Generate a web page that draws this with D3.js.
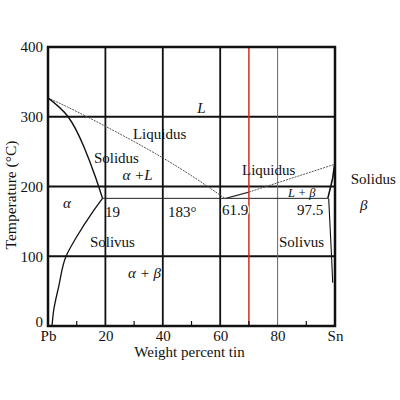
<!DOCTYPE html>
<html>
<head>
<meta charset="utf-8">
<script src="https://cdn.jsdelivr.net/npm/d3@7"></script>
<style>
  body { margin: 0; background: #fff; }
  svg text { font-family: "Liberation Serif", "Times New Roman", serif; fill: #111; }
</style>
</head>
<body>
<script>
// axis ticks
const xTicks = [0, 20, 40, 60, 80, 100];
const xTickLabels = ["Pb", "20", "40", "60", "80", "Sn"];
const xMinorTicks = [10, 30, 50, 70, 90];
const yTicks = [0, 100, 200, 300, 400];

// phase boundaries, [wt% Sn, temperature °C]
const liquidusLeft = [[0, 327], [13.6, 300], [40, 241], [62, 182]];
const liquidusRight = [[61.9, 183], [70, 192], [100, 232]];
const solidusLeft = [[0, 327], [7, 300], [12.5, 257], [16.5, 214], [19, 183]];
const solvusLeft = [[19, 183], [15.3, 162], [10, 128], [6.3, 100], [3.7, 56], [2, 23], [1.4, 0]];
const solidusRight = [[97.5, 183], [99.2, 212], [99.8, 230]];
const solvusRight = [[97.8, 183], [98.8, 100], [99.2, 62]];
const eutectic = { from: 19, to: 97.5, temp: 183 };
const alloy = 70;

const serif = "'Liberation Serif', 'Times New Roman', serif";

let width = 400,
    height = 400;

let svg = d3.select("body")
    .append("svg")
    .attr("width", width)
    .attr("height", height);

let x = d3.scaleLinear().domain([0, 100]).range([48, 335]);
let y = d3.scaleLinear().domain([0, 400]).range([326, 47]);

// grid
svg.selectAll(".hgrid")
    .data(yTicks.filter(d => d > 0 && d < 400))
    .enter().append("line")
    .attr("x1", x(0)).attr("x2", x(100))
    .attr("y1", d => y(d)).attr("y2", d => y(d))
    .attr("stroke", "#111").attr("stroke-width", 1.8);

svg.selectAll(".vgrid")
    .data(xTicks.filter(d => d > 0 && d < 100))
    .enter().append("line")
    .attr("x1", d => x(d)).attr("x2", d => x(d))
    .attr("y1", y(0)).attr("y2", y(400))
    .attr("stroke", d => d === 80 ? "#666" : "#111")
    .attr("stroke-width", d => d === 80 ? 1 : 1.8);

// eutectic isotherm
svg.append("line")
    .attr("x1", x(eutectic.from)).attr("x2", x(eutectic.to))
    .attr("y1", y(eutectic.temp)).attr("y2", y(eutectic.temp))
    .attr("stroke", "#222").attr("stroke-width", 1);

let line = d3.line().x(d => x(d[0])).y(d => y(d[1]));
let curve = d3.line().x(d => x(d[0])).y(d => y(d[1])).curve(d3.curveNatural);
let curveY = d3.line().x(d => x(d[0])).y(d => y(d[1])).curve(d3.curveMonotoneY);

svg.append("path").attr("d", curve(liquidusLeft))
    .attr("fill", "none").attr("stroke", "#555").attr("stroke-width", 1)
    .attr("stroke-dasharray", "2,1");
svg.append("path").attr("d", line(liquidusRight.slice(0, 2)))
    .attr("fill", "none").attr("stroke", "#333").attr("stroke-width", 1.3);
svg.append("path").attr("d", line(liquidusRight.slice(1)))
    .attr("fill", "none").attr("stroke", "#555").attr("stroke-width", 1)
    .attr("stroke-dasharray", "2,1");
svg.append("path").attr("d", curve(solidusLeft))
    .attr("fill", "none").attr("stroke", "#111").attr("stroke-width", 1.4);
svg.append("path").attr("d", curveY(solvusLeft))
    .attr("fill", "none").attr("stroke", "#111").attr("stroke-width", 1.3);
svg.append("path").attr("d", line(solidusRight))
    .attr("fill", "none").attr("stroke", "#111").attr("stroke-width", 1.6);
svg.append("path").attr("d", line(solvusRight))
    .attr("fill", "none").attr("stroke", "#111").attr("stroke-width", 1.1);

// alloy composition line
svg.append("line")
    .attr("x1", x(alloy)).attr("x2", x(alloy))
    .attr("y1", y(0)).attr("y2", y(400))
    .attr("stroke", "#d42a2a").attr("stroke-width", 1.5);

// frame
svg.append("rect")
    .attr("x", x(0)).attr("y", y(400))
    .attr("width", x(100) - x(0)).attr("height", y(0) - y(400))
    .attr("fill", "none").attr("stroke", "#111").attr("stroke-width", 2.5);

// minor ticks
svg.selectAll(".minor")
    .data(xMinorTicks)
    .enter().append("line")
    .attr("x1", d => x(d)).attr("x2", d => x(d))
    .attr("y1", y(0)).attr("y2", y(0) - 5)
    .attr("stroke", "#111").attr("stroke-width", 1.2);

// axes (labels only)
let xAxis = svg.append("g")
    .attr("transform", "translate(0," + y(0) + ")")
    .call(d3.axisBottom(x).tickValues(xTicks).tickSize(0).tickPadding(4)
        .tickFormat((d, i) => xTickLabels[i]));
xAxis.select(".domain").remove();
xAxis.attr("font-family", null);
xAxis.selectAll("text")
    .style("font-family", serif)
    .style("font-size", "15px").attr("fill", "#111");

let yAxis = svg.append("g")
    .attr("transform", "translate(" + x(0) + ",0)")
    .call(d3.axisLeft(y).tickValues(yTicks).tickSize(0).tickPadding(5));
yAxis.select(".domain").remove();
yAxis.attr("font-family", null);
yAxis.selectAll("text")
    .style("font-family", serif)
    .style("font-size", "15px").attr("fill", "#111")
    .attr("dy", d => d === 0 ? "0" : "0.32em");

svg.append("text")
    .attr("x", x(50) - 2)
    .attr("y", 357)
    .style("text-anchor", "middle")
    .style("font-family", serif)
    .style("font-size", "15px")
    .text("Weight percent tin");

svg.append("text")
    .attr("transform", "translate(16,195) rotate(-90)")
    .style("text-anchor", "middle")
    .style("font-family", serif)
    .style("font-size", "15.5px")
    .text("Temperature (°C)");

// region labels
const notes = [
  { t: "L", at: [52, 305], it: true },
  { t: "Liquidus", at: [29.6, 268] },
  { t: "Solidus", at: [16, 234] },
  { t: "α +L", at: [26, 210], it: true },
  { t: "α", at: [5.2, 169], it: true },
  { t: "19", at: [19.9, 156] },
  { t: "183°", at: [41.8, 156] },
  { t: "61.9", at: [60.6, 159], halo: true },
  { t: "97.5", at: [86.8, 159] },
  { t: "L + β", at: [83.6, 185], it: true, small: true },
  { t: "Liquidus", at: [67.6, 216] },
  { t: "Solidus", at: [105.5, 204] },
  { t: "β", at: [108.7, 166], it: true },
  { t: "Solivus", at: [14.6, 113] },
  { t: "Solivus", at: [80.5, 113] },
  { t: "α + β", at: [27.9, 69], it: true }
];

svg.selectAll(".note")
    .data(notes)
    .enter().append("text")
    .attr("x", d => x(d.at[0]))
    .attr("y", d => y(d.at[1]))
    .style("font-family", serif)
    .style("font-size", d => d.small ? "12.5px" : "15px")
    .style("font-style", d => d.it ? "italic" : "normal")
    .attr("stroke", d => d.halo ? "#fff" : "none")
    .attr("stroke-width", 3)
    .attr("paint-order", "stroke")
    .text(d => d.t);
</script>
</body>
</html>
